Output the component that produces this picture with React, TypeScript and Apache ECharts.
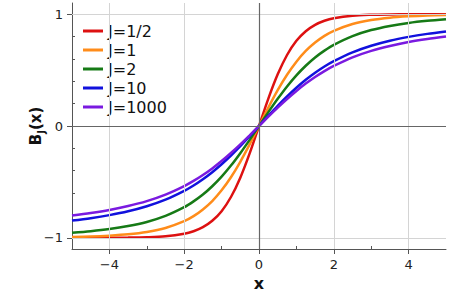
import React, { useEffect, useRef } from "react";
import * as echarts from "echarts";

const xs = [-5, -4.5, -4, -3.5, -3, -2.5, -2, -1.75, -1.5, -1.25, -1, -0.75, -0.5, -0.25, 0, 0.25, 0.5, 0.75, 1, 1.25, 1.5, 1.75, 2, 2.5, 3, 3.5, 4, 4.5, 5];

const jHalf = [-1.0, -1.0, -0.999, -0.998, -0.995, -0.987, -0.964, -0.941, -0.905, -0.848, -0.762, -0.635, -0.462, -0.245, 0, 0.245, 0.462, 0.635, 0.762, 0.848, 0.905, 0.941, 0.964, 0.987, 0.995, 0.998, 0.999, 1.0, 1.0];
const j1 = [-0.993, -0.989, -0.981, -0.969, -0.948, -0.912, -0.851, -0.806, -0.746, -0.671, -0.575, -0.458, -0.32, -0.165, 0, 0.165, 0.32, 0.458, 0.575, 0.671, 0.746, 0.806, 0.851, 0.912, 0.948, 0.969, 0.981, 0.989, 0.993];
const j2 = [-0.955, -0.941, -0.922, -0.895, -0.858, -0.804, -0.726, -0.674, -0.613, -0.539, -0.453, -0.354, -0.243, -0.124, 0, 0.124, 0.243, 0.354, 0.453, 0.539, 0.613, 0.674, 0.726, 0.804, 0.858, 0.895, 0.922, 0.941, 0.955];
const j10 = [-0.846, -0.824, -0.797, -0.763, -0.718, -0.659, -0.58, -0.532, -0.476, -0.413, -0.342, -0.264, -0.18, -0.091, 0, 0.091, 0.18, 0.264, 0.342, 0.413, 0.476, 0.532, 0.58, 0.659, 0.718, 0.763, 0.797, 0.824, 0.846];
const j1000 = [-0.8, -0.778, -0.751, -0.716, -0.672, -0.614, -0.537, -0.491, -0.438, -0.379, -0.313, -0.241, -0.164, -0.083, 0, 0.083, 0.164, 0.241, 0.313, 0.379, 0.438, 0.491, 0.537, 0.614, 0.672, 0.716, 0.751, 0.778, 0.8];

const seriesNames = ["J=1/2", "J=1", "J=2", "J=10", "J=1000"];
const seriesValues = [jHalf, j1, j2, j10, j1000];
const seriesColors = ["#dd1111", "#ff8c1a", "#167a16", "#1111dd", "#7a1ae0"];

const xMajorTicks = [-4, -2, 0, 2, 4];
const xMinorTicks = [-3, -1, 1, 3];
const yMajorTicks = [-1, 0, 1];
const yMinorTicks = [-0.8, -0.6, -0.4, -0.2, 0.2, 0.4, 0.6, 0.8];
const xGridLines = [-4, -2, 2, 4];
const yGridLines = [-1, 1];

const FONT = "DejaVu Sans";
const AXIS_COLOR = "#555555";

const fmt = (v: number) => (v < 0 ? "\u2212" + Math.abs(v) : String(v));

export default function App() {
  const ref = useRef<HTMLDivElement>(null);
  useEffect(() => {
    if (!ref.current) return;
    const chart = echarts.init(ref.current, null, { renderer: "svg" });

    const baseX = {
      type: "value" as const,
      position: "bottom" as const,
      min: -5,
      max: 5,
      interval: 1,
      splitLine: { show: false },
    };
    const baseY = {
      type: "value" as const,
      position: "left" as const,
      min: -1.1,
      max: 1.1,
      splitLine: { show: false },
    };

    const option: any = {
      animation: false,
      backgroundColor: "#ffffff",
      grid: { left: 72, right: 28, top: 3, bottom: 43, containLabel: false, outerBoundsMode: "none" },
      legend: {
        orient: "vertical",
        left: 78,
        top: 18,
        icon: "rect",
        itemWidth: 20,
        itemHeight: 3,
        itemGap: 3,
        data: seriesNames,
        textStyle: { fontFamily: FONT, fontSize: 16, lineHeight: 16, color: "#111111" },
      },
      xAxis: [
        {
          ...baseX,
          name: "x",
          nameLocation: "middle",
          nameGap: 26,
          nameMoveOverlap: false,
          nameTextStyle: { fontFamily: FONT, fontSize: 16, fontWeight: "bold", color: "#111111" },
          axisLine: { show: true, onZero: false, lineStyle: { color: AXIS_COLOR, width: 1 } },
          axisTick: { show: true, inside: false, length: 5, customValues: xMajorTicks, lineStyle: { color: AXIS_COLOR } },
          axisLabel: { show: true, margin: 9, customValues: xMajorTicks, formatter: fmt, fontFamily: FONT, fontSize: 13, color: "#222222" },
        },
        {
          ...baseX,
          axisLine: { show: false, onZero: false },
          axisTick: { show: true, inside: true, length: 5, customValues: xMajorTicks, lineStyle: { color: AXIS_COLOR } },
          axisLabel: { show: false },
        },
        {
          ...baseX,
          axisLine: { show: false, onZero: false },
          axisTick: { show: true, inside: true, length: 3, customValues: xMinorTicks, lineStyle: { color: AXIS_COLOR } },
          axisLabel: { show: false },
        },
      ],
      yAxis: [
        {
          ...baseY,
          name: "{b|B}{s|J}{b|(x)}",
          nameLocation: "middle",
          nameGap: 26,
          nameMoveOverlap: false,
          nameRotate: 90,
          nameTextStyle: {
            fontFamily: FONT,
            fontWeight: "bold",
            color: "#111111",
            rich: {
              b: { fontFamily: FONT, fontSize: 15, fontWeight: "bold", lineHeight: 20, color: "#111111" },
              s: { fontFamily: FONT, fontSize: 10, fontWeight: "bold", lineHeight: 11, verticalAlign: "bottom", color: "#111111" },
            },
          },
          axisLine: { show: true, onZero: false, lineStyle: { color: AXIS_COLOR, width: 1 } },
          axisTick: { show: true, inside: false, length: 5, customValues: yMajorTicks, lineStyle: { color: AXIS_COLOR } },
          axisLabel: { show: true, margin: 9, customValues: yMajorTicks, formatter: fmt, fontFamily: FONT, fontSize: 13, color: "#222222" },
        },
        {
          ...baseY,
          axisLine: { show: false, onZero: false },
          axisTick: { show: true, inside: true, length: 5, customValues: yMajorTicks, lineStyle: { color: AXIS_COLOR } },
          axisLabel: { show: false },
        },
        {
          ...baseY,
          axisLine: { show: false, onZero: false },
          axisTick: { show: true, inside: true, length: 3, customValues: yMinorTicks, lineStyle: { color: AXIS_COLOR } },
          axisLabel: { show: false },
        },
      ],
      series: [
        {
          type: "line",
          name: "__grid",
          data: [],
          z: 1,
          silent: true,
          markLine: {
            silent: true,
            symbol: "none",
            label: { show: false },
            animation: false,
            data: [
              ...xGridLines.map((v) => ({ xAxis: v, lineStyle: { color: "#d4d4d4", width: 1, type: "solid" } })),
              ...yGridLines.map((v) => ({ yAxis: v, lineStyle: { color: "#d4d4d4", width: 1, type: "solid" } })),
              { xAxis: 0, lineStyle: { color: "#666666", width: 1.2, type: "solid" } },
              { yAxis: 0, lineStyle: { color: "#666666", width: 1.2, type: "solid" } },
            ],
          },
        },
        ...seriesNames.map((name, i) => ({
          type: "line",
          name,
          z: 3,
          smooth: 0.3,
          showSymbol: false,
          symbol: "none",
          color: seriesColors[i],
          lineStyle: { color: seriesColors[i], width: 2.5 },
          data: xs.map((x, k) => [x, seriesValues[i][k]]),
        })),
      ],
    };
    chart.setOption(option);
    return () => chart.dispose();
  }, []);
  return <div ref={ref} style={{ position: "fixed", left: 0, top: 0, width: 474, height: 292 }} />;
}
